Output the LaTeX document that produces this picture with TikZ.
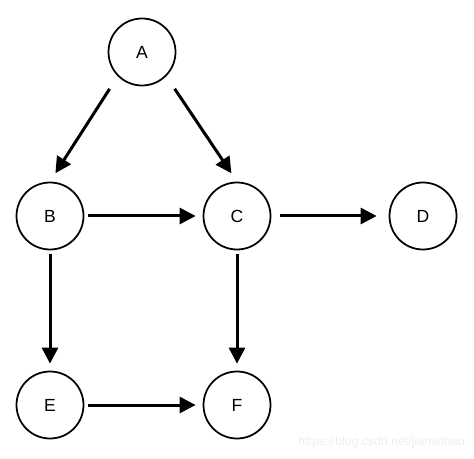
\documentclass[tikz,border=0pt]{standalone}
\usepackage{fontspec}
\setmainfont{Liberation Sans}
\usetikzlibrary{arrows.meta}
\definecolor{GraphInk}{RGB}{0,0,0}
\definecolor{MarkGray}{RGB}{238,238,238}

\begin{document}
\begin{tikzpicture}[
  vert/.style={circle,draw=GraphInk,line width=0.035cm,minimum size=1.34cm,inner sep=0pt,font=\fontsize{10}{12}\selectfont,text=GraphInk},
  arr/.style={-{Triangle[length=0.32cm,width=0.32cm]},line width=0.06cm,draw=GraphInk,shorten <=0.08cm,shorten >=0.14cm},
  diag/.style={arr,shorten <=0.3cm,shorten >=0.2cm}]
  \useasboundingbox (0,0) rectangle (9.48,-9.16);
  \node[vert] (a) at (2.84,-1.04) {A};
  \node[vert] (b) at (1.0,-4.32) {B};
  \node[vert] (c) at (4.74,-4.32) {C};
  \node[vert] (d) at (8.46,-4.32) {D};
  \node[vert] (e) at (1.0,-8.1) {E};
  \node[vert] (f) at (4.74,-8.1) {F};
  \draw[diag] (a.225)--(b.north);
  \draw[diag] (a.-45)--(c.north);
  \draw[arr] (b)--(c);
  \draw[arr,shorten <=0.18cm,shorten >=0.24cm] (c)--(d);
  \draw[arr] (b)--(e);
  \draw[arr] (c)--(f);
  \draw[arr] (e)--(f);
  % watermark
  \node[anchor=east,text=MarkGray,font=\fontsize{7}{8}\selectfont,inner sep=0pt] (wm) at (9.3,-8.84) {https://blog.csdn.net/jiaminbao};
\end{tikzpicture}
\end{document}
